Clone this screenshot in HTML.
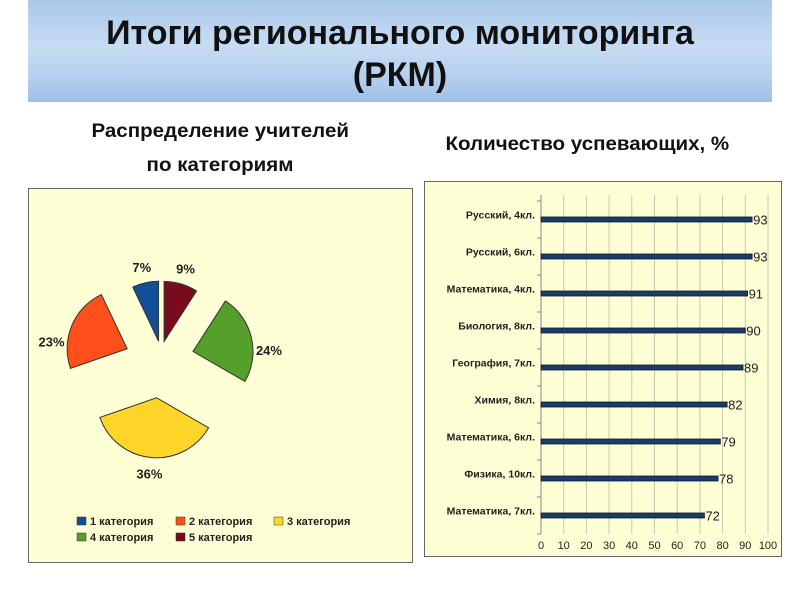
<!DOCTYPE html>
<html><head><meta charset="utf-8"><style>
body{margin:0;width:800px;height:600px;background:#fff;overflow:hidden;position:relative;font-family:"Liberation Sans",sans-serif}
.banner{position:absolute;left:28px;top:0;width:744px;height:102px;background:linear-gradient(180deg,#a9c8ea 0%,#c7dcf3 45%,#b6d0ee 75%,#9fbfe4 100%)}
.t{position:absolute;left:0;width:800px;text-align:center;font-weight:bold;color:#111}
.t span{display:inline-block;transform:scaleX(1)}
.s span{transform:scaleX(1.08)}
</style></head><body>
<div class="banner"></div>
<div class="t" style="top:12px;font-size:34px;line-height:42px"><span>Итоги регионального мониторинга</span><br><span>(РКМ)</span></div>
<div class="t s" style="left:20px;width:400px;top:115px;font-size:19px;line-height:34px"><span>Распределение учителей</span><br><span>по категориям</span></div>
<div class="t s" style="left:387px;width:400px;top:132px;font-size:19px;line-height:25px"><span>Количество успевающих, %</span></div>

<svg id="pie" width="800" height="600" style="position:absolute;left:0;top:0">
<rect x="28.5" y="188.5" width="384" height="374" fill="#ffffd5" stroke="#666"/>
</svg>
<svg id="bar" width="800" height="600" style="position:absolute;left:0;top:0">
<rect x="424.5" y="181.5" width="357" height="375" fill="#ffffd5" stroke="#666"/>
</svg>
<script>
const pieLabels=["1 категория","2 категория","3 категория","4 категория","5 категория"];
const pieValues=[7,23,36,24,9];
const pieColors=["#104f95","#ff4f1a","#ffd52a","#55a02a","#7a0a1e"];
const barCategories=["Русский,  4кл.","Русский, 6кл.","Математика, 4кл.","Биология, 8кл.","География, 7кл.","Химия, 8кл.","Математика, 6кл.","Физика, 10кл.","Математика, 7кл."];
const barValues=[93,93,91,90,89,82,79,78,72];
const xTicks=[0,10,20,30,40,50,60,70,80,90,100];
const NS="http://www.w3.org/2000/svg";
function mk(p,t,a){const e=document.createElementNS(NS,t);for(const k in a)e.setAttribute(k,a[k]);p.appendChild(e);return e;}
// pie
const pie=document.getElementById('pie');
const cx=161,cy=352,R=60;
const total=pieValues.reduce((a,b)=>a+b,0);
const order=[4,3,2,1,0];
const explode=[11,32,46,34,11];
const tilt=[0,0.22,0,-0.3,0];
let acc=0;
order.forEach((idx,k)=>{
  const a0=acc/total*2*Math.PI;acc+=pieValues[idx];const a1=acc/total*2*Math.PI;
  const am=(a0+a1)/2+tilt[k];const d=explode[k];
  const ox=cx+d*Math.sin(am),oy=cy-d*Math.cos(am);
  const p=(a)=>[ox+R*Math.sin(a),oy-R*Math.cos(a)];
  const s=p(a0),e=p(a1);
  const path=mk(pie,'path',{d:`M${ox},${oy}L${s[0]},${s[1]}A${R},${R} 0 ${a1-a0>Math.PI?1:0} 1 ${e[0]},${e[1]}Z`,fill:pieColors[idx],stroke:'#333','stroke-width':1});
  
  
  const lr=R+16;
  const t=mk(pie,'text',{x:ox+lr*Math.sin(am),y:oy-lr*Math.cos(am)+5,'text-anchor':'middle','font-size':13,'font-weight':'bold',fill:'#222'});
  t.textContent=pieValues[idx]+'%';
  
  
});
pieLabels.forEach((l,i)=>{
  const x=[77,176,274][i%3],y=i<3?521:537;
  const r=mk(pie,'rect',{x:x,y:y-4,width:9,height:8,fill:pieColors[i],stroke:'#333','stroke-width':0.5});
  
  
  const t=mk(pie,'text',{x:x+13,y:y+4,'font-size':11,'font-weight':'bold',fill:'#222'});
  t.textContent=l;
  
  
});
// bar
const bar=document.getElementById('bar');
const x0=541,x1=768,yTop=201,yBot=534;
const xs=v=>x0+(v-0)/100*(x1-x0);
const band=(yBot-yTop)/barCategories.length;
xTicks.forEach(v=>{
  const l=mk(bar,'line',{x1:xs(v),x2:xs(v),y1:yTop-6,y2:yBot,stroke:v===0?'#888':'#c8c8b0','stroke-width':1});
  
  
  const t=mk(bar,'text',{x:xs(v),y:yBot+15,'text-anchor':'middle','font-size':11,fill:'#222'});
  t.textContent=v;
  
  
});
for(let i=0;i<=barCategories.length;i++){mk(bar,'line',{x1:x0-4,x2:x0,y1:yTop+i*band,y2:yTop+i*band,stroke:'#888'});}
barCategories.forEach((c,i)=>{
  const yc=yTop+band*(i+0.5);
  const r=mk(bar,'rect',{x:x0,y:yc-2.5,width:xs(barValues[i])-x0,height:5,fill:'#1a3d68',stroke:'#0a1a30','stroke-width':0.8});
  
  
  const t=mk(bar,'text',{x:x0-6,y:yc-1,'text-anchor':'end','font-size':10.5,'font-weight':'bold',fill:'#222'});
  t.textContent=c;
  
  
  const v=mk(bar,'text',{x:xs(barValues[i])+1,y:yc+5,'font-size':13,fill:'#222'});
  v.textContent=barValues[i];
  
  
});
</script>
</body></html>
